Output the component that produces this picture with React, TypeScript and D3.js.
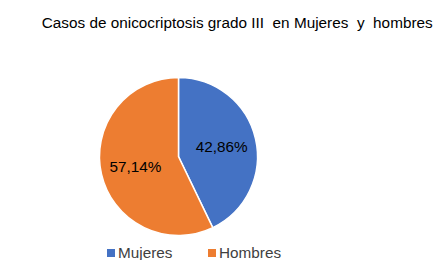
import React from "react";
import * as d3 from "d3";

const categories = ["Mujeres", "Hombres"];
const values = [42.86, 57.14];
const labels = ["42,86%", "57,14%"];
const colors = ["#4472C4", "#ED7D31"];
const title = "Casos de onicocriptosis grado III  en Mujeres  y  hombres";

export default function App() {
  const W = 444, H = 260;
  const cx = 178.5, cy = 156.5, R = 79;
  const pie = d3.pie<number>().sort(null).value((d) => d)(values);
  const arc = d3.arc<d3.PieArcDatum<number>>().innerRadius(0).outerRadius(R);
  const labelArc = d3.arc<d3.PieArcDatum<number>>().innerRadius(R * 0.56).outerRadius(R * 0.56);
  const font = "'Liberation Sans', Arial, sans-serif";
  return (
    <svg width={W} height={H} style={{ position: "absolute", left: 0, top: 0, fontFamily: font }}>
      <rect width={W} height={H} fill="#ffffff" />
      <text x={41.7} y={28} textAnchor="start" fontSize={15.3} fill="#000000" textLength={391} lengthAdjust="spacing" xmlSpace="preserve" style={{ whiteSpace: "pre" }}>
        {title}
      </text>
      <g transform={`translate(${cx},${cy})`}>
        {pie.map((p, i) => (
          <path key={i} d={arc(p) || ""} fill={colors[i]} stroke="#ffffff" strokeWidth={1.5} />
        ))}
        {pie.map((p, i) => {
          const [x, y] = labelArc.centroid(p);
          return (
            <text key={i} x={x} y={y} dy="0.36em" textAnchor="middle" fontSize={15.3} fill="#000000">
              {labels[i]}
            </text>
          );
        })}
      </g>
      <g>
        {categories.map((c, i) => {
          const x0 = i === 0 ? 107 : 208;
          return (
            <g key={c}>
              <rect x={x0} y={249} width={8} height={8} fill={colors[i]} />
              <text x={x0 + 11} y={257.5} fontSize={15.3} fill="#404040">
                {c}
              </text>
            </g>
          );
        })}
      </g>
    </svg>
  );
}
